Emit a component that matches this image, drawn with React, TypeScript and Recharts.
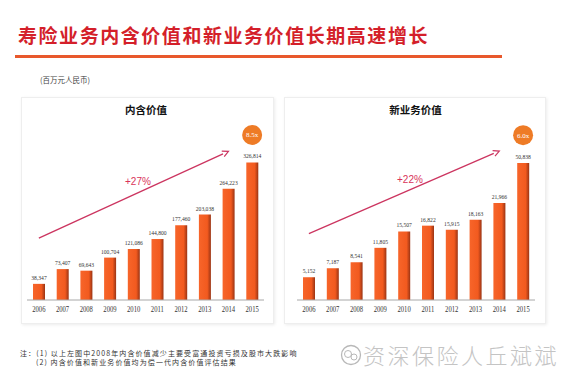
import React from 'react';
import { BarChart, Bar, XAxis, YAxis, LabelList, ReferenceLine, ReferenceDot } from 'recharts';

const years = ['2006', '2007', '2008', '2009', '2010', '2011', '2012', '2013', '2014', '2015'];
const evValues = [38347, 73407, 69643, 100704, 121086, 144800, 177460, 203038, 264223, 326814];
const nbvValues = [5152, 7187, 8541, 11805, 15507, 16822, 15915, 18163, 21966, 50838];

const pageTitle = '寿险业务内含价值和新业务价值长期高速增长';
const unitText = '(百万元人民币)';
const evTitle = '内含价值';
const nbvTitle = '新业务价值';
const evGrowth = '+27%';
const nbvGrowth = '+22%';
const evMultiple = '8.5x';
const nbvMultiple = '6.0x';
const note1 = '注：(1) 以上左图中2008年内含价值减少主要受富通投资亏损及股市大跌影响';
const note2 = '(2) 内含价值和新业务价值均为偿一代内含价值评估结果';
const watermark = '资深保险人丘斌斌';

const evData = years.map((y, i) => ({ year: y, value: evValues[i] }));
const nbvData = years.map((y, i) => ({ year: y, value: nbvValues[i] }));

const SERIF = '"Liberation Serif", "DejaVu Serif", serif';
const CJK = '"Noto Sans CJK SC", sans-serif';
const ARROW = '#cc3560';

const fmt = (v: number) => v.toLocaleString('en-US');

const YearTick = (props: any) => {
  const { x, y, payload } = props;
  return (
    <g transform={`translate(${x},${y})`}>
      <text transform="scale(0.78,1)" textAnchor="middle" dy={9} fontSize={8.5} fontFamily={SERIF} fill="#333">
        {payload.value}
      </text>
    </g>
  );
};

const makeLabel = (plotTop: number) => (props: any) => {
  const { x, y, width, value } = props;
  const top = Math.max(y, plotTop);
  const cx = x + width / 2;
  return (
    <g transform={`translate(${cx},${top - 4})`}>
      <text transform="scale(0.8,1)" textAnchor="middle" fontSize={7} fontFamily={SERIF} fill="#333">
        {fmt(value)}
      </text>
    </g>
  );
};

const arrowShape = (props: any) => {
  const { x1, y1, x2, y2 } = props;
  if ([x1, y1, x2, y2].some((v) => typeof v !== 'number' || isNaN(v))) return <g />;
  const ang = Math.atan2(y2 - y1, x2 - x1);
  const L = 6;
  const W = 3;
  const bx = x2 - L * Math.cos(ang);
  const by = y2 - L * Math.sin(ang);
  const px = -Math.sin(ang) * W;
  const py = Math.cos(ang) * W;
  return (
    <g>
      <line x1={x1} y1={y1} x2={bx} y2={by} stroke={ARROW} strokeWidth={1.3} />
      <polyline
        points={`${bx + px},${by + py} ${x2},${y2} ${bx - px},${by - py}`}
        fill="none"
        stroke={ARROW}
        strokeWidth={1.2}
      />
    </g>
  );
};

const dotShape = (text: string) => (props: any) => {
  const { cx, cy } = props;
  return (
    <g>
      <circle cx={cx} cy={cy} r={10} fill="#ee7b26" />
      <text x={cx} y={cy + 2.5} textAnchor="middle" fontSize={7} fontFamily={SERIF} fill="#fff">
        {text}
      </text>
    </g>
  );
};

const Gradient = ({ id }: { id: string }) => (
  <defs>
    <linearGradient id={id} x1="0" y1="0" x2="1" y2="0">
      <stop offset="0%" stopColor="#f7652a" />
      <stop offset="70%" stopColor="#f25a1f" />
      <stop offset="100%" stopColor="#9a3414" />
    </linearGradient>
  </defs>
);

const panelStyle: React.CSSProperties = {
  position: 'absolute',
  border: '1px solid #eeeeee',
  boxShadow: '1px 1px 3px rgba(0,0,0,0.08)',
  background: '#fff',
};

const abs = (left: number, top: number, extra: React.CSSProperties = {}): React.CSSProperties => ({
  position: 'absolute',
  left,
  top,
  whiteSpace: 'nowrap',
  lineHeight: 1,
  ...extra,
});

export default function App() {
  return (
    <div style={{ position: 'fixed', left: 0, top: 0, width: 566, height: 375, background: '#fff', overflow: 'hidden' }}>
      <div style={abs(18, 25, { fontFamily: CJK, fontWeight: 700, fontSize: 19, letterSpacing: 1.55, color: '#d41f2a' })}>
        {pageTitle}
      </div>
      <div style={{ position: 'absolute', left: 15, top: 55, width: 487, height: 3, background: '#e8582c' }} />
      <div style={abs(40, 76, { fontFamily: CJK, fontSize: 7.5, color: '#444' })}>{unitText}</div>

      <div style={{ ...panelStyle, left: 21, top: 97, width: 251, height: 225 }} />
      <div style={{ ...panelStyle, left: 284, top: 97, width: 260, height: 225 }} />

      <div style={abs(125, 105, { fontFamily: CJK, fontWeight: 700, fontSize: 10.5, color: '#111', width: 42, textAlign: 'center' })}>
        {evTitle}
      </div>
      <div style={abs(388, 105, { fontFamily: CJK, fontWeight: 700, fontSize: 10.5, color: '#111', width: 55, textAlign: 'center' })}>
        {nbvTitle}
      </div>

      <div style={{ position: 'absolute', left: 27, top: 100 }}>
        <BarChart width={237} height={220} data={evData} margin={{ top: 0, right: 0, bottom: 0, left: 0 }}>
          <Gradient id="barGradL" />
          <XAxis
            dataKey="year"
            height={20}
            tickLine={false}
            tickSize={0}
            tickMargin={3}
            axisLine={{ stroke: '#a8a8a8', strokeWidth: 1 }}
            tick={<YearTick />}
            interval={0}
          />
          <YAxis hide type="number" domain={[0, 475000]} />
          <ReferenceLine
            segment={[{ x: '2006', y: 147000 }, { x: '2014', y: 353000 }]}
            ifOverflow="visible"
            shape={arrowShape}
          />
          <Bar dataKey="value" fill="url(#barGradL)" barSize={12} isAnimationActive={false}>
            <LabelList dataKey="value" content={makeLabel(0)} />
          </Bar>
          <ReferenceDot x="2015" y={392000} r={10} ifOverflow="visible" shape={dotShape(evMultiple)} />
        </BarChart>
      </div>

      <div style={{ position: 'absolute', left: 297, top: 100 }}>
        <BarChart width={238} height={220} data={nbvData} margin={{ top: 63, right: 0, bottom: 0, left: 0 }}>
          <Gradient id="barGradR" />
          <XAxis
            dataKey="year"
            height={20}
            tickLine={false}
            tickSize={0}
            tickMargin={3}
            axisLine={{ stroke: '#a8a8a8', strokeWidth: 1 }}
            tick={<YearTick />}
            interval={0}
          />
          <YAxis hide type="number" domain={[0, 31000]} allowDataOverflow />
          <ReferenceLine
            segment={[{ x: '2006', y: 15000 }, { x: '2014', y: 33700 }]}
            ifOverflow="visible"
            shape={arrowShape}
          />
          <Bar dataKey="value" fill="url(#barGradR)" barSize={12} isAnimationActive={false}>
            <LabelList dataKey="value" content={makeLabel(63)} />
          </Bar>
          <ReferenceDot x="2015" y={37300} r={10} ifOverflow="visible" shape={dotShape(nbvMultiple)} />
        </BarChart>
      </div>

      <div style={abs(125, 177, { fontFamily: '"Liberation Sans", Arial, sans-serif', fontSize: 10, color: '#d9335a' })}>
        {evGrowth}
      </div>
      <div style={abs(397, 175, { fontFamily: '"Liberation Sans", Arial, sans-serif', fontSize: 10, color: '#d9335a' })}>
        {nbvGrowth}
      </div>

      <div style={abs(20, 350, { fontFamily: CJK, fontSize: 7, color: '#333', letterSpacing: 1.1 })}>{note1}</div>
      <div style={abs(36, 359, { fontFamily: CJK, fontSize: 7, color: '#333', letterSpacing: 1.1 })}>{note2}</div>

      <svg style={{ position: 'absolute', left: 340, top: 343 }} width={22} height={24}>
        <circle cx={11} cy={12} r={9.5} fill="none" stroke="#b8b8b8" strokeWidth={1.3} />
        <circle cx={8} cy={11} r={3.5} fill="none" stroke="#b8b8b8" strokeWidth={1} />
        <circle cx={14} cy={14} r={3} fill="none" stroke="#b8b8b8" strokeWidth={1} />
      </svg>
      <div style={abs(363, 343, { fontFamily: CJK, fontSize: 22, fontWeight: 300, color: '#c4c4c4', letterSpacing: 2.5 })}>
        {watermark}
      </div>
    </div>
  );
}
